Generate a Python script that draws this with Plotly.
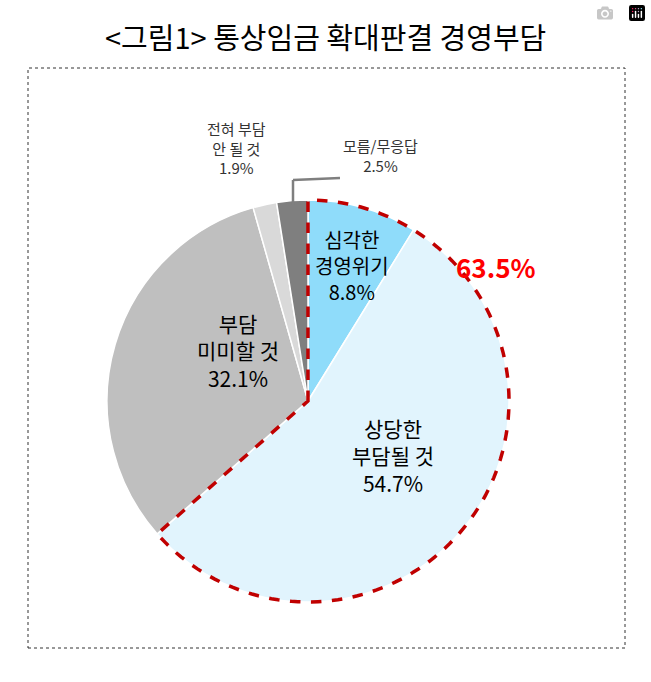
import math
import plotly.graph_objects as go

W, H = 651, 682

labels = ["심각한 경영위기", "상당한 부담될 것", "부담 미미할 것", "전혀 부담 안 될 것", "모름/무응답"]
values = [8.8, 54.7, 32.1, 1.9, 2.5]
colors = ["#8fdcfa", "#e1f4fd", "#bfbfbf", "#d9d9d9", "#7f7f7f"]
slice_text = ["심각한<br>경영위기<br>8.8%", "상당한<br>부담될 것<br>54.7%", "부담<br>미미할 것<br>32.1%",
              "전혀 부담<br>안 될 것<br>1.9%", "모름/무응답<br>2.5%"]
text_pos = [(352, 265), (393, 455), (195, 350), (236, 148), (380, 155)]
text_size = [20, 21, 21, 15, 15]
text_color = ["#000000", "#000000", "#000000", "#333333", "#333333"]
total_share = "63.5%"

cx, cy, r = 308, 401, 201


def px(x, y):
    return x / W, 1 - y / H


fig = go.Figure(go.Pie(
    values=values, labels=labels, sort=False, direction="clockwise", rotation=0,
    marker=dict(colors=colors, line=dict(color="white", width=1.5)),
    textinfo="none", hoverinfo="label+percent", showlegend=False,
    domain=dict(x=[(cx - r) / W, (cx + r) / W], y=[1 - (cy + r) / H, 1 - (cy - r) / H]),
))

# dashed outline around the first two slices
share = (values[0] + values[1]) / sum(values)
pts = [(cx, cy)]
n = 120
for i in range(n + 1):
    a = 2 * math.pi * share * i / n
    pts.append((cx + r * math.sin(a), cy - r * math.cos(a)))
path = "M " + " L ".join(f"{px(x, y)[0]:.4f},{px(x, y)[1]:.4f}" for x, y in pts) + " Z"
shapes = [
    dict(type="path", path=path, xref="paper", yref="paper",
         line=dict(color="#c00000", width=3.5, dash="dash")),
    dict(type="rect", xref="paper", yref="paper", x0=28 / W, x1=625 / W, y0=1 - 648 / H, y1=1 - 68 / H,
         line=dict(color="#333333", width=1, dash="dot")),
]
# leader line for 모름/무응답
lx = [(293, 205), (293, 180), (340, 178)]
for (x0, y0), (x1, y1) in zip(lx[:-1], lx[1:]):
    a, b = px(x0, y0)
    c, d = px(x1, y1)
    shapes.append(dict(type="line", xref="paper", yref="paper", x0=a, y0=b, x1=c, y1=d,
                       line=dict(color="#7f7f7f", width=2.5)))

ann = []
for t, (x, y), s, c in zip(slice_text, text_pos, text_size, text_color):
    a, b = px(x, y)
    ann.append(dict(text=t, x=a, y=b, xref="paper", yref="paper", showarrow=False, yanchor="middle",
                    font=dict(size=s, color=c), align="center"))
a, b = px(538, 266)
ann.append(dict(text=f"<b>{total_share}</b>", x=a, y=b, xref="paper", yref="paper", showarrow=False,
                yanchor="middle", font=dict(size=26, color="#ff0000")))
ann.append(dict(text="&lt;그림1&gt; 통상임금 확대판결 경영부담", x=0.5, y=1 - 36 / H, xref="paper",
                yref="paper", showarrow=False, yanchor="middle", font=dict(size=29, color="black")))

fig.update_layout(width=W, height=H, margin=dict(l=0, r=0, t=0, b=0),
                  paper_bgcolor="white", plot_bgcolor="white",
                  font=dict(family="Noto Sans CJK KR"),
                  shapes=shapes, annotations=ann)
fig.write_html("out.html")

# drop the default page margin so the figure sits at the window's corner
with open("out.html", encoding="utf-8") as f:
    html = f.read()
html = html.replace("<body>", '<body style="margin:0">', 1)
with open("out.html", "w", encoding="utf-8") as f:
    f.write(html)
